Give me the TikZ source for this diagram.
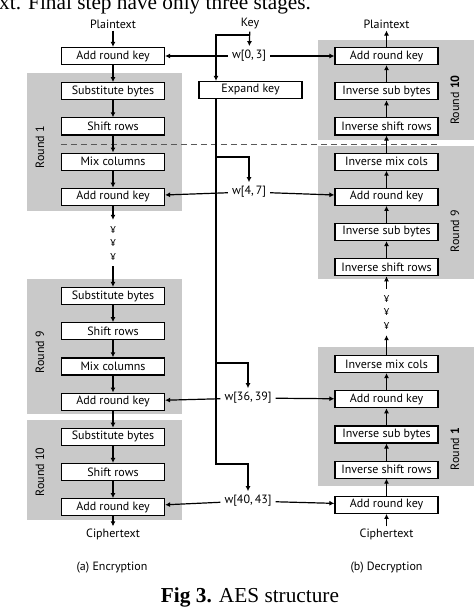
\documentclass[tikz,border=0pt]{standalone}
\usepackage{fontspec}
\setmainfont{Liberation Serif}
\newfontfamily\boxfont{PT Sans}
\usepackage{tikz}
\usetikzlibrary{positioning, arrows.meta, calc}
\definecolor{round-gray}{gray}{0.79}
\definecolor{dash-gray}{gray}{0.35}

\tikzset{
	box/.style={draw, fill=white, line width=1.2pt, minimum width=103pt, minimum height=17pt, inner sep=0pt, font=\boxfont\fontsize{12}{14}\selectfont},
	txt/.style={inner sep=2pt, font=\boxfont\fontsize{12}{14}\selectfont},
	roundlbl/.style={txt, rotate=90},
	flow/.style={->, line width=1.2pt},
	ydots/.style={txt, align=center, inner sep=6pt, font=\boxfont\fontsize{10}{13.5}\selectfont},
}

\begin{document}
\begin{tikzpicture}[x=1pt, y=-1pt, node distance=17pt, >={Latex[length=5pt, width=5pt]}]
	\path[use as bounding box, clip] (0,0) rectangle (474,607);

	% grey round panels
	\fill[round-gray] (27,73) rectangle (182,211);
	\fill[round-gray] (27,279) rectangle (182,414);
	\fill[round-gray] (27,420) rectangle (182,520);
	\fill[round-gray] (318,40) rectangle (474,140);
	\fill[round-gray] (318,146) rectangle (474,279);
	\fill[round-gray] (318,347) rectangle (474,486);

	% encryption
	\node[txt] (plainE) at (113,24) {Plaintext};
	\node[box] (e1) at (113,56) {Add round key};
	\node[box, below =of e1] (e2) {Substitute bytes};
	\node[box, below =of e2] (e3) {Shift rows};
	\node[box, below =of e3] (e4) {Mix columns};
	\node[box, below =of e4] (e5) {Add round key};
	\node[ydots] (edots) at (113,243) {¥\\¥\\¥};
	\node[box] (e6) at (113,296) {Substitute bytes};
	\node[box, below =of e6] (e7) {Shift rows};
	\node[box, below =of e7] (e8) {Mix columns};
	\node[box, below =of e8] (e9) {Add round key};
	\node[box, below =of e9] (e10) {Substitute bytes};
	\node[box, below =of e10] (e11) {Shift rows};
	\node[box, below =of e11] (e12) {Add round key};
	\node[txt] (cipherE) at (113,534) {Ciphertext};
	\node[txt] (capE) at (112,568) {(a) Encryption};

	% key schedule
	\node[txt] (key) at (250,24) {Key};
	\node[txt, inner sep=4pt] (w03) at (249,56) {w[0,\,3]};
	\node[box] (xkey) at (250.5,90) {Expand key};
	\node[txt, inner sep=4pt] (w47) at (249,192) {w[4,\,7]};
	\node[txt, inner sep=4pt] (w3639) at (248,398) {w[36,\,39]};
	\node[txt, inner sep=4pt] (w4043) at (248,501) {w[40,\,43]};
	\coordinate (ksplit) at (250,35);
	\coordinate (bus) at (216,35);
	\coordinate (h1) at (216,157);
	\coordinate (h2) at (216,363);
	\coordinate (h3) at (216,464);

	% decryption
	\node[txt] (plainD) at (386.5,24) {Plaintext};
	\node[box] (d1) at (386.5,56) {Add round key};
	\node[box, below =of d1] (d2) {Inverse sub bytes};
	\node[box, below =of d2] (d3) {Inverse shift rows};
	\node[box, below =of d3] (d4) {Inverse mix cols};
	\node[box, below =of d4] (d5) {Add round key};
	\node[box, below =of d5] (d6) {Inverse sub bytes};
	\node[box, below =of d6] (d7) {Inverse shift rows};
	\node[ydots] (ddots) at (386.5,312) {¥\\¥\\¥};
	\node[box] (d8) at (386.5,364) {Inverse mix cols};
	\node[box, below =of d8] (d9) {Add round key};
	\node[box, below =of d9] (d10) {Inverse sub bytes};
	\node[box, below =of d10] (d11) {Inverse shift rows};
	\node[box, below =of d11] (d12) {Add round key};
	\node[txt] (cipherD) at (386.5,534) {Ciphertext};
	\node[txt] (capD) at (386.5,568) {(b) Decryption};

	% round labels
	\node[roundlbl] (r1E) at (40,147) {Round 1};
	\node[roundlbl] (r9E) at (40,352) {Round 9};
	\node[roundlbl] (r10E) at (40,472) {Round 10};
	\node[roundlbl] (r10D) at (455,100) {Round \textbf{10}};
	\node[roundlbl] (r9D) at (455,231) {Round 9};
	\node[roundlbl] (r1D) at (455,449) {Round \textbf{1}};

	\draw[dash-gray, line width=0.9pt, dash pattern=on 6pt off 4pt]
		($(e3.south west)!.5!(e4.north west)$) -- ($(d3.south east)!.5!(d4.north east)$);

	% encryption flow
	\draw
	(plainE) edge[flow] (e1)
	(e1) edge[flow] (e2)
	(e2) edge[flow] (e3)
	(e3) edge[flow] (e4)
	(e4) edge[flow] (e5)
	(e5) edge[flow] (edots)
	(edots) edge[flow] (e6)
	(e6) edge[flow] (e7)
	(e7) edge[flow] (e8)
	(e8) edge[flow] (e9)
	(e9) edge[flow] (e10)
	(e10) edge[flow] (e11)
	(e11) edge[flow] (e12)
	(e12) edge[flow] (cipherE);

	% decryption flow
	\draw
	(cipherD) edge[flow] (d12)
	(d12) edge[flow] (d11)
	(d11) edge[flow] (d10)
	(d10) edge[flow] (d9)
	(d9) edge[flow] (d8)
	(d8) edge[flow] (ddots)
	(ddots) edge[flow] (d7)
	(d7) edge[flow] (d6)
	(d6) edge[flow] (d5)
	(d5) edge[flow] (d4)
	(d4) edge[flow] (d3)
	(d3) edge[flow] (d2)
	(d2) edge[flow] (d1)
	(d1) edge[flow] (plainD);

	% key expansion
	\draw (key) edge[flow] (w03);
	\draw[flow] (ksplit) -| (xkey.north -| bus);
	\draw[flow] (xkey.south -| h3) -- (h3) -| (w4043);
	\draw[flow] (h1) -| (w47);
	\draw[flow] (h2) -| (w3639);
	\draw
	(w03) edge[flow] (e1)
	(w03) edge[flow] (d1)
	(w47) edge[flow] (e5)
	(w47) edge[flow] (d5)
	(w3639) edge[flow] (e9)
	(w3639) edge[flow] (d9)
	(w4043) edge[flow] (e12)
	(w4043) edge[flow] (d12);

	% captions
	\node[anchor=base west, inner sep=0pt, font=\fontsize{21.3}{24}\selectfont] (topline) at (-1,10) {xt. Final step have only three stages.};
	\node[inner sep=0pt, font=\fontsize{21.3}{24}\selectfont] (fig) at (250,597) {\textbf{Fig 3.} AES structure};
\end{tikzpicture}
\end{document}
